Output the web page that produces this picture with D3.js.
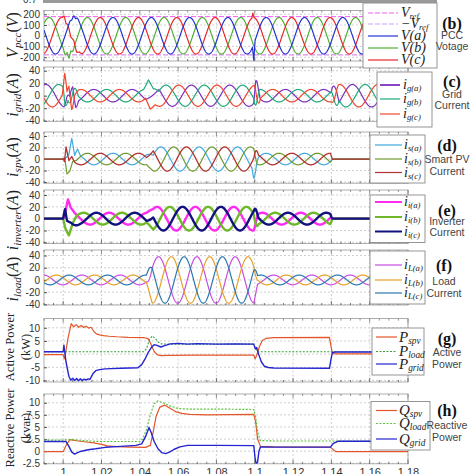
<!DOCTYPE html>
<html><head><meta charset="utf-8">
<script src="https://cdn.jsdelivr.net/npm/d3@7"></script>
<style>body{margin:0;background:#fff}svg{display:block}</style>
</head><body>
<svg id="c" width="474" height="474"></svg>
<script>
// ---------------- DATA ----------------
const FREQ = 50;
const timeDomain = [0.99, 1.18];
const timeTicks = [1, 1.02, 1.04, 1.06, 1.08, 1.1, 1.12, 1.14, 1.16, 1.18];
const timeTickLabels = ["1", "1.02", "1.04", "1.06", "1.08", "1.1", "1.12", "1.14", "1.16", "1.18"];

// envelopes: [time, amplitude, peak time of phase a]
const vpccEnv = [[0.99, 170, 1.006], [1.18, 170, 1.006]];
const vrefLevel = 178;
const vpccDevA = [[1.002, 0], [1.0035, 14], [1.0045, -6], [1.0055, 18], [1.0065, -10], [1.0075, 12], [1.009, 0], [1.0988, 0], [1.0995, -150], [1.1002, 0]];
const vpccDevB = [[1.0, 0], [1.001, -30], [1.002, 12], [1.003, -40], [1.004, 15], [1.005, -20], [1.0065, 0]];
const vpccDevC = [[0.9995, 0], [1.0005, 25], [1.0015, -20], [1.0025, 10], [1.004, -30], [1.0055, 20], [1.007, -25], [1.0085, 15], [1.01, 0], [1.0985, 0], [1.099, 42], [1.0996, 0]];

const gridEnv = [[0.99, 18, 1.011], [1.0, 18, 1.011], [1.008, 10, 0.996], [1.043, 10, 0.996], [1.05, 17, 1.007], [1.0995, 17, 1.007], [1.103, 10, 0.996], [1.14, 10, 0.996], [1.144, 18, 1.011], [1.18, 18, 1.011]];
const gridDevA = [[1.002, 0], [1.0035, -15], [1.005, 8], [1.0065, -10], [1.008, 0], [1.0995, 0], [1.1005, 16], [1.102, 0], [1.1395, 0], [1.1405, 6], [1.142, 0]];
const gridDevB = [[1.0, 0], [1.001, -15], [1.0025, 8], [1.004, -5], [1.006, 0], [1.042, 0], [1.0445, 14], [1.047, 0]];
const gridDevC = [[0.9995, 0], [1.0008, 22], [1.002, -8], [1.003, 12], [1.0045, -10], [1.006, 8], [1.0075, 0], [1.043, 0], [1.0455, -12], [1.048, 0]];

const spvEnv = [[0.99, 0, 1.006], [1.0, 0, 1.006], [1.0005, 15, 1.006], [1.008, 10, 1.006], [1.0435, 10, 1.006], [1.047, 21, 1.011], [1.0995, 21, 1.011], [1.102, 10, 1.006], [1.1395, 10, 1.006], [1.1405, 0, 1.006], [1.18, 0, 1.006]];
const spvDevA = [[1.003, 0], [1.0045, 25], [1.006, -5], [1.0075, 8], [1.009, 0], [1.0985, 0], [1.0995, -15], [1.101, 0]];
const spvDevB = [[1.0, 0], [1.0008, 15], [1.002, -12], [1.0035, -8], [1.005, 5], [1.007, 0]];
const spvDevC = [[1.0, 0], [1.0007, -18], [1.0015, 10], [1.003, -8], [1.0045, 5], [1.006, 0]];

const invEnv = [[0.99, 0, 1.004], [1.0, 0, 1.004], [1.001, 15, 1.004], [1.009, 10, 1.004], [1.0435, 10, 1.004], [1.047, 20, 1.009], [1.0995, 20, 1.009], [1.102, 10, 1.004], [1.1395, 10, 1.004], [1.1405, 0, 1.004], [1.18, 0, 1.004]];
const invDevA = [[1.001, 0], [1.0025, 20], [1.004, 5], [1.006, 0]];
const invDevB = [[1.001, 0], [1.003, -18], [1.005, -5], [1.007, 0]];
const invDevC = [[1.0, 0], [1.001, 10], [1.002, -5], [1.004, 0]];

const loadEnv = [[0.99, 8, 1.0098], [1.0435, 8, 1.0098], [1.0465, 38, 1.0098], [1.0995, 38, 1.0098], [1.1015, 8, 1.0098], [1.18, 8, 1.0098]];
const loadDev = [];

const pSpv = [[0.99, -0.2], [1.0, -0.2], [1.0006, -1.8], [1.0012, 0], [1.0025, 6], [1.0042, 11.6], [1.0055, 10.4], [1.0068, 11.2], [1.0081, 10.2], [1.0094, 10.9], [1.0107, 10.1], [1.012, 10.6], [1.0133, 9.9], [1.0146, 10.2], [1.016, 8.6], [1.0175, 7.6], [1.019, 7.3], [1.021, 7.0], [1.024, 6.8], [1.028, 6.6], [1.034, 6.4], [1.042, 6.3], [1.0445, 5.8], [1.046, 3.5], [1.0475, 1.0], [1.049, -0.2], [1.051, -0.6], [1.055, -0.5], [1.07, -0.4], [1.0995, -0.4], [1.1002, -1.8], [1.101, -0.5], [1.1025, 3], [1.104, 5.2], [1.106, 6.0], [1.11, 6.3], [1.139, 6.4], [1.1398, 3], [1.1405, 0.3], [1.142, 0.1], [1.18, 0.1]];
const pLoad = [[0.99, 0.9], [1.042, 0.9], [1.0435, 2], [1.045, 5.5], [1.0465, 6.9], [1.048, 6], [1.0495, 4.6], [1.051, 3.9], [1.055, 3.8], [1.0995, 3.8], [1.1005, 2], [1.1015, 0.9], [1.18, 0.9]];
const pGrid = [[0.99, 0.9], [1.0, 0.9], [1.0004, 3.4], [1.0008, 1], [1.0015, -3], [1.003, -8.5], [1.004, -9.9], [1.005, -9.2], [1.006, -10], [1.007, -9.3], [1.008, -10.1], [1.009, -9.4], [1.01, -10], [1.011, -9.5], [1.012, -9.9], [1.013, -9.4], [1.014, -9.6], [1.0155, -7.5], [1.017, -6.3], [1.019, -5.9], [1.022, -5.6], [1.025, -5.5], [1.03, -5.4], [1.035, -5.3], [1.039, -5.2], [1.041, -4], [1.043, -1.5], [1.0445, 0.8], [1.046, 2.5], [1.0475, 3.6], [1.049, 3.3], [1.051, 2.7], [1.053, 3.2], [1.056, 3.9], [1.06, 4.1], [1.065, 3.8], [1.07, 4.0], [1.08, 3.8], [1.09, 3.9], [1.0995, 3.8], [1.1003, 2.0], [1.101, 2.5], [1.102, 0], [1.1035, -3], [1.105, -4.6], [1.107, -5.1], [1.11, -5.3], [1.139, -5.4], [1.1398, -2], [1.1405, 0.6], [1.142, 0.8], [1.18, 0.8]];

const qSpv = [[0.99, -0.1], [1.0, -0.1], [1.0015, 1.2], [1.0035, 2.4], [1.005, 2.3], [1.008, 2.1], [1.012, 1.9], [1.016, 1.7], [1.02, 1.4], [1.023, 1.1], [1.028, 0.95], [1.035, 0.85], [1.043, 0.8], [1.0455, 1.2], [1.047, 4], [1.0485, 7.2], [1.0505, 9.1], [1.053, 9.5], [1.056, 8.8], [1.059, 8.1], [1.062, 7.8], [1.066, 7.6], [1.075, 7.5], [1.0995, 7.6], [1.1005, 6], [1.1015, 2.5], [1.103, 1.0], [1.11, 0.9], [1.1395, 0.85], [1.141, 0.3], [1.1425, -0.1], [1.18, -0.1]];
const qLoad = [[0.99, 2.3], [1.0, 2.3], [1.004, 2.4], [1.01, 2.2], [1.016, 2.05], [1.02, 2.0], [1.04, 2.0], [1.0415, 2.5], [1.0435, 4.5], [1.0455, 7.5], [1.0475, 9.8], [1.0495, 10.4], [1.052, 10.0], [1.056, 9.3], [1.06, 8.8], [1.065, 8.7], [1.08, 8.7], [1.0995, 8.6], [1.1005, 7], [1.1015, 4], [1.1028, 2.2], [1.11, 2.1], [1.18, 2.1]];
const qGrid = [[0.99, 2.0], [1.0, 2.0], [1.0015, 2.0], [1.003, 1.0], [1.0045, -0.2], [1.006, -0.6], [1.0075, -0.3], [1.0095, 0], [1.013, 0.3], [1.017, 0.5], [1.022, 0.8], [1.03, 1.0], [1.038, 1.2], [1.041, 1.5], [1.043, 3], [1.0448, 4.9], [1.046, 3.8], [1.0475, 2], [1.0495, 0.5], [1.0515, -0.3], [1.0535, -0.5], [1.0555, -0.2], [1.058, 0.4], [1.061, 0.9], [1.065, 1.2], [1.08, 1.2], [1.0995, 1.15], [1.1002, -1.5], [1.1008, -2.7], [1.1015, -2.2], [1.1022, 0], [1.103, 0.9], [1.11, 0.85], [1.1395, 0.85], [1.141, 1.6], [1.1435, 2.05], [1.18, 2.05]];

const yTicksV = [-200, -100, 0, 100, 200];
const yTicksI = [-40, -20, 0, 20, 40];
const yTicksP = [-10, -5, 0, 5, 10];
const yTicksQ = [-2.5, 0, 2.5, 5, 7.5, 10];

// ---------------- HELPERS ----------------
function interpPts(pts, t) {
  if (!pts.length) return 0;
  if (t <= pts[0][0] || t >= pts[pts.length - 1][0]) return 0;
  for (let i = 1; i < pts.length; i++) {
    if (t <= pts[i][0]) {
      const [t0, v0] = pts[i - 1], [t1, v1] = pts[i];
      return v0 + (v1 - v0) * (t - t0) / (t1 - t0);
    }
  }
  return 0;
}
function interpEnv(env, t) {
  if (t <= env[0][0]) return [env[0][1], env[0][2]];
  for (let i = 1; i < env.length; i++) {
    if (t <= env[i][0]) {
      const [t0, a0, p0] = env[i - 1], [t1, a1, p1] = env[i];
      const f = (t - t0) / (t1 - t0);
      return [a0 + f * (a1 - a0), p0 + f * (p1 - p0)];
    }
  }
  const l = env[env.length - 1];
  return [l[1], l[2]];
}
const samples = d3.range(0, 1901).map(i => 0.99 + i * 0.0001);
function phaseSeries(env, dev, k) {
  return samples.map(t => {
    const [a, tp] = interpEnv(env, t);
    return [t, a * Math.cos(2 * Math.PI * FREQ * (t - tp - k / (3 * FREQ))) + interpPts(dev, t)];
  });
}

// ---------------- DRAW ----------------
const svg = d3.select("#c");
const x = d3.scaleLinear().domain(timeDomain).range([44, 408]);
const SERIF = "'Liberation Serif','Times New Roman',serif";
const SANS = "'Liberation Sans',Arial,sans-serif";

svg.append("rect").attr("x", 43).attr("y", 0).attr("width", 394).attr("height", 3).attr("fill", "#9a9a9a");
svg.append("text").attr("x", 37).attr("y", 3).attr("text-anchor", "end").attr("font-family", SANS).attr("font-size", 10).attr("fill", "#333").text("0.7");

const panels = [
  { y0: 10.5, y1: 61, dom: [-235, 235], ticks: yTicksV,
    series: [
      { data: [[0.99, vrefLevel], [1.18, vrefLevel]], color: "#f060f0", dash: "5,2", w: 1 },
      { data: [[0.99, -vrefLevel], [1.18, -vrefLevel]], color: "#d070f0", dash: "5,2", w: 1 },
      { data: phaseSeries(vpccEnv, vpccDevB, 1), color: "#4fb035", w: 1.2 },
      { data: phaseSeries(vpccEnv, vpccDevC, 2), color: "#e8262a", w: 1.2 },
      { data: phaseSeries(vpccEnv, vpccDevA, 0), color: "#2233d0", w: 1.2 } ] },
  { y0: 67, y1: 121.3, dom: [-41, 46], ticks: yTicksI,
    series: [
      { data: phaseSeries(gridEnv, gridDevA, 0), color: "#7a2fc0", w: 1.2 },
      { data: phaseSeries(gridEnv, gridDevB, 1), color: "#1faa7a", w: 1.2 },
      { data: phaseSeries(gridEnv, gridDevC, 2), color: "#f0452c", w: 1.2 } ] },
  { y0: 132, y1: 183.2, dom: [-42, 47], ticks: yTicksI,
    series: [
      { data: phaseSeries(spvEnv, spvDevA, 0), color: "#3fa9e0", w: 1.2 },
      { data: phaseSeries(spvEnv, spvDevB, 1), color: "#6e9a2c", w: 1.2 },
      { data: phaseSeries(spvEnv, spvDevC, 2), color: "#b3312e", w: 1.3 } ] },
  { y0: 190, y1: 243.5, dom: [-42, 48.5], ticks: yTicksI,
    series: [
      { data: phaseSeries(invEnv, invDevA, 0), color: "#ff2cf0", w: 2.4 },
      { data: phaseSeries(invEnv, invDevB, 1), color: "#6fb82a", w: 2.4 },
      { data: phaseSeries(invEnv, invDevC, 2), color: "#12127e", w: 2.4 } ] },
  { y0: 250, y1: 305, dom: [-41, 49], ticks: yTicksI,
    series: [
      { data: phaseSeries(loadEnv, loadDev, 0), color: "#c94ee0", w: 1.2 },
      { data: phaseSeries(loadEnv, loadDev, 1), color: "#e6a12a", w: 1.2 },
      { data: phaseSeries(loadEnv, loadDev, 2), color: "#2a78b0", w: 1.2 } ] },
  { y0: 318.6, y1: 382, dom: [-10.6, 13.5], ticks: yTicksP,
    series: [
      { data: pSpv, color: "#e4562a", w: 1.2 },
      { data: pLoad, color: "#3aa040", dash: "2,1.5", w: 1.1 },
      { data: pGrid, color: "#2424d0", w: 1.4 } ] },
  { y0: 394, y1: 463.8, dom: [-2.6, 11.8], ticks: yTicksQ,
    series: [
      { data: qSpv, color: "#e4562a", w: 1.2 },
      { data: qLoad, color: "#5cc23e", dash: "2,1.5", w: 1.2 },
      { data: qGrid, color: "#2424d0", w: 1.4 } ] }
];

const minorTicks = d3.range(0, 39).map(i => 0.99 + i * 0.005);

panels.forEach((p, pi) => {
  const y = d3.scaleLinear().domain(p.dom).range([p.y1, p.y0]);
  const g = svg.append("g");
  const clipId = "clip" + pi;
  svg.append("clipPath").attr("id", clipId).append("rect")
    .attr("x", 44).attr("y", p.y0).attr("width", 364).attr("height", p.y1 - p.y0);
  g.selectAll(".vg").data(timeTicks).enter().append("line")
    .attr("x1", d => x(d)).attr("x2", d => x(d)).attr("y1", p.y0).attr("y2", p.y1)
    .attr("stroke", "#c4c4c4").attr("stroke-width", 0.8).attr("stroke-dasharray", "2,2");
  g.selectAll(".hg").data(p.ticks).enter().append("line")
    .attr("x1", 44).attr("x2", 408).attr("y1", d => y(d)).attr("y2", d => y(d))
    .attr("stroke", "#c4c4c4").attr("stroke-width", 0.8).attr("stroke-dasharray", "2,2");
  g.append("rect").attr("x", 44).attr("y", p.y0).attr("width", 364).attr("height", p.y1 - p.y0)
    .attr("fill", "none").attr("stroke", "#9a9a9a").attr("stroke-width", 0.8);
  g.selectAll(".xt").data(minorTicks).enter().append("line")
    .attr("x1", d => x(d)).attr("x2", d => x(d))
    .attr("y1", p.y1).attr("y2", d => p.y1 - (timeTicks.some(v => Math.abs(v - d) < 1e-6) ? 4 : 2))
    .attr("stroke", "#555").attr("stroke-width", 0.8);
  g.selectAll(".xt2").data(minorTicks).enter().append("line")
    .attr("x1", d => x(d)).attr("x2", d => x(d))
    .attr("y1", p.y0).attr("y2", d => p.y0 + (timeTicks.some(v => Math.abs(v - d) < 1e-6) ? 4 : 2))
    .attr("stroke", "#777").attr("stroke-width", 0.8);
  const ya = d3.axisLeft(y).tickValues(p.ticks).tickSize(-3).tickPadding(4)
    .tickFormat(d => d3.format("")(d).replace("−", "-"));
  const ag = svg.append("g").attr("transform", "translate(44,0)").call(ya);
  ag.select(".domain").remove();
  ag.selectAll("line").attr("stroke", "#555");
  ag.selectAll("text").attr("font-family", SANS).attr("font-size", 10).attr("fill", "#333");
  const line = d3.line().x(d => x(d[0])).y(d => y(d[1]));
  const sg = svg.append("g").attr("clip-path", `url(#${clipId})`);
  p.series.forEach(s => {
    sg.append("path").attr("d", line(s.data)).attr("fill", "none")
      .attr("stroke", s.color).attr("stroke-width", s.w)
      .attr("stroke-dasharray", s.dash || null).attr("stroke-linejoin", "round");
  });
});

const xa = d3.axisBottom(x).tickValues(timeTicks).tickSize(0).tickPadding(4)
  .tickFormat((d, i) => timeTickLabels[i]);
const xg = svg.append("g").attr("transform", "translate(0,463.8)").call(xa);
xg.select(".domain").remove();
xg.selectAll("text").attr("font-family", SANS).attr("font-size", 11).attr("fill", "#333");

function ylabel(cx, cy, parts, size) {
  const t = svg.append("text").attr("transform", `translate(${cx},${cy}) rotate(-90)`)
    .attr("text-anchor", "middle").attr("dominant-baseline", "central")
    .attr("font-family", SERIF).attr("font-size", size).attr("fill", "#222");
  parts.forEach(pt => {
    const ts = t.append("tspan").text(pt.t);
    if (pt.i) ts.attr("font-style", "italic");
    if (pt.sub) ts.attr("font-size", size * 0.7).attr("dy", size * 0.3);
    if (pt.up) ts.attr("dy", -size * 0.3);
  });
}
ylabel(12, 35, [{ t: "V", i: 1 }, { t: "pcc", i: 1, sub: 1 }, { t: "(", up: 1 }, { t: "V", i: 1 }, { t: ")" }], 16);
ylabel(12, 95, [{ t: "i", i: 1 }, { t: "grid", i: 1, sub: 1 }, { t: "(", up: 1 }, { t: "A", i: 1 }, { t: ")" }], 16);
ylabel(12, 157, [{ t: "i", i: 1 }, { t: "spv", i: 1, sub: 1 }, { t: "(", up: 1 }, { t: "A", i: 1 }, { t: ")" }], 16);
ylabel(12, 220, [{ t: "i", i: 1 }, { t: "inverter", i: 1, sub: 1 }, { t: "(", up: 1 }, { t: "A", i: 1 }, { t: ")" }], 16);
ylabel(12, 279, [{ t: "i", i: 1 }, { t: "load", i: 1, sub: 1 }, { t: "(", up: 1 }, { t: "A", i: 1 }, { t: ")" }], 16);
ylabel(10, 347, [{ t: "Active Power" }], 12.5);
ylabel(26, 347, [{ t: "(kW)" }], 12.5);
ylabel(10, 428, [{ t: "Reactive Power" }], 12.5);
ylabel(26, 428, [{ t: "(kvar)" }], 12.5);

function legend(box, rows, lineX, textX, fs, items) {
  svg.append("rect").attr("x", box[0]).attr("y", box[1]).attr("width", box[2] - box[0]).attr("height", box[3] - box[1])
    .attr("fill", "#fff").attr("stroke", "#8a8a8a").attr("stroke-width", 0.9);
  items.forEach((it, i) => {
    svg.append("line").attr("x1", lineX[0]).attr("x2", lineX[1]).attr("y1", rows[i]).attr("y2", rows[i])
      .attr("stroke", it.color).attr("stroke-width", it.w || 1.2).attr("stroke-dasharray", it.dash || null);
    const t = svg.append("text").attr("x", textX).attr("y", rows[i] + fs * 0.3)
      .attr("font-family", SERIF).attr("font-size", fs).attr("font-style", "italic").attr("fill", "#222");
    t.append("tspan").text(it.main);
    if (it.sub) t.append("tspan").attr("font-size", fs * 0.62).attr("dy", fs * 0.15).text(it.sub);
  });
}
legend([363, 3, 437, 68], [13, 24, 36, 48, 60], [368, 398], 401, 14, [
  { color: "#f060f0", dash: "5,2", main: "V", sub: "ref" },
  { color: "#c8a0ff", dash: "5,2", main: "−V", sub: "ref" },
  { color: "#2233d0", main: "V(a)" },
  { color: "#4fb035", main: "V(b)" },
  { color: "#e8262a", main: "V(c)" }]);
legend([377, 72, 432, 127], [85, 99, 114], [380, 400], 403, 14, [
  { color: "#7a2fc0", w: 1.8, main: "i", sub: "g(a)" },
  { color: "#1faa7a", main: "i", sub: "g(b)" },
  { color: "#f0452c", main: "i", sub: "g(c)" }]);
legend([370, 135, 425, 183], [145, 159, 172.5], [375, 402], 404, 14, [
  { color: "#3fa9e0", main: "i", sub: "s(a)" },
  { color: "#6e9a2c", main: "i", sub: "s(b)" },
  { color: "#b3312e", main: "i", sub: "s(c)" }]);
legend([370, 195, 425, 242.5], [202, 217, 231.5], [375, 402], 404, 14, [
  { color: "#ff2cf0", w: 2, main: "i", sub: "i(a)" },
  { color: "#6fb82a", w: 2, main: "i", sub: "i(b)" },
  { color: "#12127e", w: 2, main: "i", sub: "i(c)" }]);
legend([370, 251, 425, 304], [265, 280, 293], [375, 402], 404, 14, [
  { color: "#c94ee0", main: "i", sub: "L(a)" },
  { color: "#e6a12a", main: "i", sub: "L(b)" },
  { color: "#2a78b0", main: "i", sub: "L(c)" }]);
legend([372, 328, 424, 375], [337, 351.5, 364], [376, 397], 399, 15, [
  { color: "#e4562a", main: "P", sub: "spv" },
  { color: "#3aa040", dash: "2,1.5", main: "P", sub: "load" },
  { color: "#2424d0", main: "P", sub: "grid" }]);
legend([371, 401.5, 430, 450], [410.5, 423.5, 439], [376, 397], 399, 15, [
  { color: "#e4562a", main: "Q", sub: "spv" },
  { color: "#5cc23e", dash: "2,1.5", main: "Q", sub: "load" },
  { color: "#2424d0", main: "Q", sub: "grid" }]);

const sideLabels = [
  { x: 452, lines: [["(b)", 23, 1], ["PCC", 35], ["Votage", 46]] },
  { x: 452, lines: [["(c)", 81, 1], ["Grid", 94], ["Current", 105]] },
  { x: 447, lines: [["(d)", 145, 1], ["Smart PV", 159], ["Current", 170.5]] },
  { x: 447, lines: [["(e)", 210, 1], ["Inverter", 220.5], ["Current", 232]] },
  { x: 444, lines: [["(f)", 265, 1], ["Load", 280.5], ["Current", 292.5]] },
  { x: 447, lines: [["(g)", 338.5, 1], ["Active", 352], ["Power", 364]] },
  { x: 447, lines: [["(h)", 410.5, 1], ["Reactive", 425], ["Power", 436.5]] }
];
sideLabels.forEach(s => {
  s.lines.forEach(([txt, yy, bold]) => {
    svg.append("text").attr("x", s.x).attr("y", yy).attr("text-anchor", "middle")
      .attr("dominant-baseline", "central")
      .attr("font-family", bold ? SERIF : SANS).attr("font-weight", bold ? "bold" : "normal")
      .attr("font-size", bold ? 16 : 10.5).attr("fill", bold ? "#111" : "#444").text(txt);
  });
});
</script>
</body></html>
